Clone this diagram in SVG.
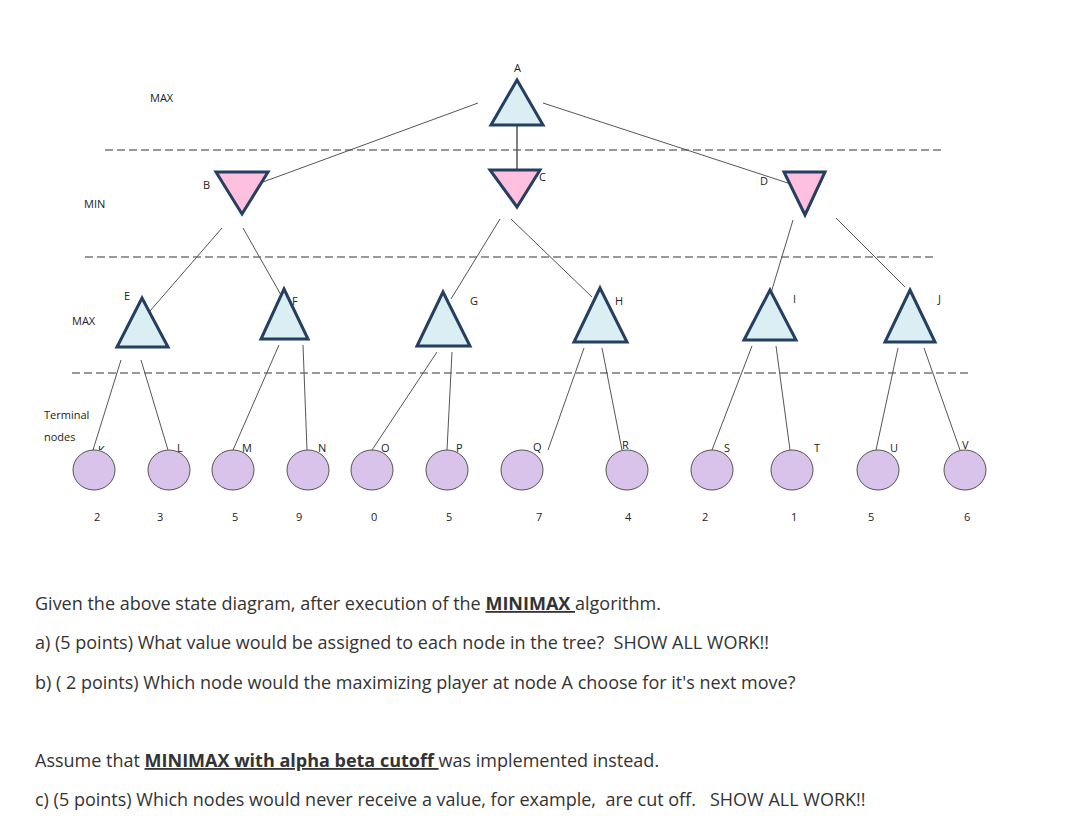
<svg xmlns="http://www.w3.org/2000/svg" width="1079" height="818" viewBox="0 0 1079 818">
<style>
.t{font-family:"Open Sans",sans-serif;font-size:11px;fill:#222}
.q{font-family:"Open Sans",sans-serif;font-size:18px;fill:#333;white-space:pre}
.mx{fill:#dbeef4;stroke:#243f60;stroke-width:3;stroke-linejoin:miter}
.mn{fill:#ffc0e0;stroke:#243f60;stroke-width:3}
.lf{fill:#d9c3ea;stroke:#555;stroke-width:1}
.e{stroke:#555;stroke-width:1;fill:none}
.d{stroke:#333;stroke-width:1;stroke-dasharray:8,4;fill:none}
</style>
<defs><clipPath id="kc"><rect x="90" y="440" width="20" height="10"/></clipPath></defs>
<rect width="1079" height="818" fill="#fff"/>
<g id="guides">
<line class="d" x1="105" y1="150" x2="945" y2="150"/>
<line class="d" x1="85" y1="257" x2="935" y2="257"/>
<line class="d" x1="72" y1="373" x2="968" y2="373"/>
<text class="t" x="150" y="102">MAX</text>
<text class="t" x="84" y="208">MIN</text>
<text class="t" x="72" y="325">MAX</text>
<text class="t" x="44" y="419">Terminal</text>
<text class="t" x="44" y="441">nodes</text>
</g>
<g id="connectors">
<line class="e" x1="478" y1="103" x2="263" y2="182"/>
<line class="e" x1="517" y1="126" x2="517" y2="170" style="stroke-width:1.5"/>
<line class="e" x1="543" y1="103" x2="797" y2="186"/>
<line class="e" x1="222" y1="228" x2="150" y2="311"/>
<line class="e" x1="243" y1="228" x2="281" y2="295"/>
<line class="e" x1="500" y1="219" x2="451" y2="299"/>
<line class="e" x1="511" y1="219" x2="592" y2="297"/>
<line class="e" x1="793" y1="220" x2="771" y2="293"/>
<line class="e" x1="836" y1="218" x2="905" y2="287"/>
<line class="e" x1="121" y1="360" x2="93" y2="450"/>
<line class="e" x1="141" y1="360" x2="168" y2="450"/>
<line class="e" x1="279" y1="345" x2="233" y2="450"/>
<line class="e" x1="303" y1="345" x2="307" y2="450"/>
<line class="e" x1="437" y1="352" x2="372" y2="450"/>
<line class="e" x1="452" y1="352" x2="447" y2="450"/>
<line class="e" x1="584" y1="348" x2="548" y2="450"/>
<line class="e" x1="602" y1="348" x2="622" y2="450"/>
<line class="e" x1="752" y1="346" x2="712" y2="450"/>
<line class="e" x1="776" y1="346" x2="790" y2="450"/>
<line class="e" x1="898" y1="348" x2="876" y2="450"/>
<line class="e" x1="924" y1="348" x2="960" y2="450"/>
</g>
<g id="A"><polygon class="mx" points="517,80 543,125 491,125"/><text class="t" x="514" y="72">A</text></g>
<g id="B"><polygon class="mn" points="216,172 268,172 242,214"/><text class="t" x="203" y="189">B</text></g>
<g id="C"><polygon class="mn" points="490,170 540,170 517,207"/><text class="t" x="539" y="181">C</text></g>
<g id="D"><polygon class="mn" points="784,172 825,172 805,215"/><text class="t" x="760" y="185">D</text></g>
<g id="E"><polygon class="mx" points="142,298 168,347 117,347"/><text class="t" x="124" y="300">E</text></g>
<g id="F"><polygon class="mx" points="284,289 308,339 261,339"/><text class="t" x="292" y="305">F</text></g>
<g id="G"><polygon class="mx" points="443,292 470,346 417,346"/><text class="t" x="470" y="305">G</text></g>
<g id="H"><polygon class="mx" points="600,288 627,342 574,342"/><text class="t" x="615" y="305">H</text></g>
<g id="I"><polygon class="mx" points="770,290 796,340 744,340"/><text class="t" x="793" y="303">I</text></g>
<g id="J"><polygon class="mx" points="910,290 935,342 885,342"/><text class="t" x="938" y="303">J</text></g>
<g id="K"><ellipse class="lf" cx="94" cy="470" rx="21" ry="20"/><text class="t" x="98" y="454" clip-path="url(#kc)">K</text><text class="t" x="94" y="521">2</text></g>
<g id="L"><ellipse class="lf" cx="169" cy="470" rx="21" ry="20"/><text class="t" x="177" y="452">L</text><text class="t" x="157" y="521">3</text></g>
<g id="M"><ellipse class="lf" cx="233" cy="470" rx="21" ry="20"/><text class="t" x="242" y="452">M</text><text class="t" x="232" y="521">5</text></g>
<g id="N"><ellipse class="lf" cx="308" cy="470" rx="21" ry="20"/><text class="t" x="318" y="452">N</text><text class="t" x="296" y="521">9</text></g>
<g id="O"><ellipse class="lf" cx="372" cy="470" rx="21" ry="20"/><text class="t" x="381" y="452">O</text><text class="t" x="371" y="521">0</text></g>
<g id="P"><ellipse class="lf" cx="447" cy="470" rx="21" ry="20"/><text class="t" x="456" y="452">P</text><text class="t" x="446" y="521">5</text></g>
<g id="Q"><ellipse class="lf" cx="522" cy="470" rx="21" ry="20"/><text class="t" x="533" y="451">Q</text><text class="t" x="536" y="521">7</text></g>
<g id="R"><ellipse class="lf" cx="627" cy="470" rx="21" ry="20"/><text class="t" x="622" y="449">R</text><text class="t" x="625" y="521">4</text></g>
<g id="S"><ellipse class="lf" cx="712" cy="470" rx="21" ry="20"/><text class="t" x="724" y="452">S</text><text class="t" x="702" y="521">2</text></g>
<g id="T"><ellipse class="lf" cx="792" cy="470" rx="21" ry="20"/><text class="t" x="814" y="452">T</text><text class="t" x="791" y="521">1</text></g>
<g id="U"><ellipse class="lf" cx="878" cy="470" rx="21" ry="20"/><text class="t" x="890" y="452">U</text><text class="t" x="868" y="521">5</text></g>
<g id="V"><ellipse class="lf" cx="965" cy="470" rx="21" ry="20"/><text class="t" x="962" y="449">V</text><text class="t" x="964" y="521">6</text></g>
<g id="text">
<text class="q" x="35" y="610" xml:space="preserve">Given the above state diagram, after execution of the <tspan font-weight="bold" text-decoration="underline">MINIMAX </tspan>algorithm.</text>
<text class="q" x="35" y="649" xml:space="preserve">a) (5 points) What value would be assigned to each node in the tree?  SHOW ALL WORK!!</text>
<text class="q" x="35" y="689" xml:space="preserve">b) ( 2 points) Which node would the maximizing player at node A choose for it's next move?</text>
<text class="q" x="35" y="767" xml:space="preserve">Assume that <tspan font-weight="bold" text-decoration="underline">MINIMAX with alpha beta cutoff </tspan>was implemented instead.</text>
<text class="q" x="35" y="806" xml:space="preserve">c) (5 points) Which nodes would never receive a value, for example,  are cut off.   SHOW ALL WORK!!</text>
</g>
</svg>
